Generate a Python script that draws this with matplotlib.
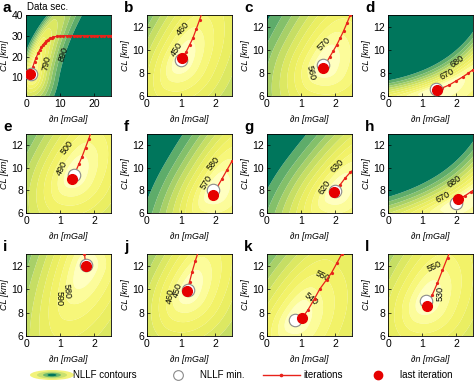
import numpy as np
import matplotlib
matplotlib.use('Agg')
import matplotlib.pyplot as plt
from matplotlib.colors import ListedColormap, BoundaryNorm
from matplotlib.patches import Ellipse

plt.rcParams['font.family'] = ['Liberation Sans', 'DejaVu Sans']

letters = list('abcdefghijkl')

# ---------------- data ----------------
# NLLF minimum (white circle) per panel
nllf_min_x = [1.5, 1.00, 1.65, 1.41, 1.40, 1.95, 2.00, 2.00, 1.75, 1.22, 0.82, 1.12]
nllf_min_y = [11.5, 9.10, 8.70, 6.58, 9.40, 8.00, 7.95, 6.90, 12.10, 9.90, 7.40, 9.00]

# iterations (in order, last element = last iteration)
iter_x = [
    [26, 25, 24, 23, 22, 21, 20, 19, 18, 17, 16, 15, 14, 13, 12, 11, 10, 9, 8, 7.5, 7, 6.5, 6, 5.5, 5, 4.5, 4, 3.5, 3, 2.5, 2, 1.6, 1.3],
    [1.65, 1.55, 1.45, 1.35, 1.25, 1.15, 1.08, 1.02],
    [2.55, 2.45, 2.35, 2.25, 2.15, 2.05, 1.95, 1.85, 1.75, 1.66],
    [2.65, 2.5, 2.35, 2.2, 2.0, 1.8, 1.6, 1.45],
    [1.95, 1.85, 1.75, 1.65, 1.55, 1.45, 1.35],
    [2.6, 2.5, 2.35, 2.2, 2.05, 1.93],
    [2.6, 2.45, 2.3, 2.15, 1.98],
    [2.6, 2.45, 2.25, 2.05],
    [1.70, 1.72, 1.74, 1.75],
    [1.55, 1.52, 1.42, 1.33, 1.25, 1.18],
    [2.3, 2.2, 2.05, 1.9, 1.75, 1.55, 1.4, 1.2, 1.02],
    [1.9, 1.85, 1.75, 1.6, 1.45, 1.3, 1.15],
]
iter_y = [
    [30.1, 30.1, 30.1, 30.1, 30.1, 30.1, 30.1, 30.1, 30.1, 30.1, 30.1, 30.1, 30.1, 30.1, 30.05, 30.0, 29.9, 29.7, 29.4, 29.1, 28.7, 28.2, 27.5, 26.7, 25.7, 24.5, 23.0, 21.5, 19.5, 17.5, 15.0, 13.0, 11.5],
    [13.5, 12.6, 11.8, 11.0, 10.4, 9.8, 9.5, 9.25],
    [13.4, 13.0, 12.3, 11.6, 11.0, 10.4, 9.9, 9.4, 8.9, 8.38],
    [8.6, 8.27, 7.95, 7.65, 7.3, 6.95, 6.7, 6.52],
    [13.5, 12.6, 11.8, 11.0, 10.3, 9.6, 9.0],
    [11.1, 10.6, 9.8, 9.0, 8.2, 7.6],
    [10.0, 9.6, 9.1, 8.5, 7.85],
    [8.2, 7.9, 7.5, 7.2],
    [13.5, 13.0, 12.5, 12.0],
    [13.5, 13.3, 12.4, 11.5, 10.6, 9.85],
    [13.5, 13.0, 12.2, 11.4, 10.8, 10.0, 9.2, 8.2, 7.5],
    [13.8, 13.4, 12.7, 11.6, 10.5, 9.5, 8.6],
]

# labelled NLLF contour values
label_values = [[790, 890], [450, 460], [560, 570], [670, 680], [490, 500], [570, 580],
                [620, 630], [670, 680], [580, 590], [450, 460], [540, 550], [530, 550]]

# ---------------- styling / layout ----------------
label_pos = [[(6, 17), (11, 21)], [(0.88, 10.05), (1.07, 11.8)], [(1.28, 7.97), (1.67, 10.5)],
             [(1.74, 7.9), (2.02, 9.0)], [(1.05, 10.0), (1.2, 11.8)], [(1.75, 8.7), (1.95, 10.4)],
             [(1.7, 8.3), (2.05, 10.2)], [(1.62, 7.4), (1.95, 8.8)], [(1.2, 9.8), (0.98, 9.2)],
             [(0.9, 9.9), (0.69, 9.4)], [(1.3, 9.2), (1.62, 11.1)], [(1.55, 9.6), (1.35, 11.9)]]

# field shape: theta, curvature, vertex offset, perp+ scale, perp- scale, along+ scale, along- scale
shape = [
    (80, -0.3, 0.0, 0.04, 0.10, 0.40, 0.15),
    (65, 0.0, 0.0, 0.22, 0.35, 0.70, 0.45),
    (64, 0.0, 0.0, 0.25, 0.45, 0.70, 0.40),
    (45, 0.40, 0.55, 0.09, 0.40, 0.90, 0.50),
    (65, 0.0, 0.0, 0.25, 0.38, 0.70, 0.45),
    (62, 0.0, 0.0, 0.20, 0.45, 0.70, 0.45),
    (55, 0.0, 0.0, 0.21, 0.45, 0.70, 0.45),
    (45, 0.35, 0.35, 0.127, 0.40, 0.90, 0.50),
    (70, 0.0, 0.0, 0.26, 0.38, 0.40, 0.80),
    (65, 0.0, 0.0, 0.25, 0.35, 0.70, 0.45),
    (60, 0.0, 0.0, 0.25, 0.45, 0.70, 0.45),
    (65, 0.0, 0.0, 0.28, 0.40, 0.70, 0.45),
]

q_levels = [0, 0.15, 0.4, 0.8, 1.4, 2.2, 3.2, 4.5, 6, 8, 11]
band_colors = ['#ffffc0', '#fcfc9a', '#f7f77a', '#f2f268', '#eaee62', '#dce862',
               '#c6de64', '#a8d068', '#84c06a', '#5eac6a']
dark = '#00765c'
cmap = ListedColormap(band_colors)
cmap.set_over(dark)
norm = BoundaryNorm(q_levels, cmap.N)

red = '#e8221a'

W, H = 474, 382
fig = plt.figure(figsize=(W / 100, H / 100), dpi=100)

col_left = [26, 147, 267, 388]
row_top = [15, 134, 254]
row_h = [81, 79, 82]
ax_w = 85


def field(X, Y, cx, cy, xr, yr, th, curv, a0, sp, sn, ap, an):
    xn = (X - cx) / xr
    yn = (Y - cy) / yr
    t = np.deg2rad(th)
    al = xn * np.cos(t) + yn * np.sin(t)
    pe = -xn * np.sin(t) + yn * np.cos(t) - curv * ((al - a0) ** 2 - a0 ** 2)
    return (pe / np.where(pe > 0, sp, sn)) ** 2 + (al / np.where(al > 0, ap, an)) ** 2


for i in range(12):
    r, c = divmod(i, 4)
    L = col_left[c]
    T = row_top[r]
    ah = row_h[r]
    ax = fig.add_axes([L / W, 1 - (T + ah) / H, ax_w / W, ah / H])
    if i == 0:
        xlim, ylim = (0, 25), (1, 40)
        xt, yt = [0, 10, 20], [10, 20, 30, 40]
    else:
        xlim, ylim = (0, 2.5), (6, 13)
        xt, yt = [0, 1, 2], [6, 8, 10, 12]
    xs = np.linspace(xlim[0], xlim[1], 300)
    ys = np.linspace(ylim[0], ylim[1], 300)
    X, Y = np.meshgrid(xs, ys)
    args = (nllf_min_x[i], nllf_min_y[i], xlim[1] - xlim[0], ylim[1] - ylim[0]) + tuple(shape[i])
    Q = field(X, Y, *args)
    ax.contourf(X, Y, Q, levels=q_levels, cmap=cmap, norm=norm, extend='max', antialiased=True)

    # labelled contours
    for k in range(2):
        px, py = label_pos[i][k]
        qv = float(field(np.array(px), np.array(py), *args))
        cs = ax.contour(X, Y, Q, levels=[qv], colors='none')
        ax.clabel(cs, fmt={cs.levels[0]: str(label_values[i][k])}, manual=[label_pos[i][k]],
                  colors='k', fontsize=6.5, inline=False)

    ax.plot(iter_x[i], iter_y[i], '-', color=red, lw=0.9, marker='o', ms=1.3, mfc=red, mec=red, zorder=4)
    ax.plot([nllf_min_x[i]], [nllf_min_y[i]], 'o', ms=9, mfc='white', mec='#8a8a8a', mew=0.8, zorder=5)
    ax.plot([iter_x[i][-1]], [iter_y[i][-1]], 'o', ms=7, mfc='#e60000', mec='#e60000', zorder=6)

    ax.set_xlim(*xlim)
    ax.set_ylim(*ylim)
    ax.set_xticks(xt)
    ax.set_yticks(yt)
    ax.tick_params(direction='in', length=2.5, width=0.5, labelsize=7.5, pad=2)
    for s in ax.spines.values():
        s.set_linewidth(0.6)
    ax.set_xlabel('∂n [mGal]', fontsize=6.5, style='italic', labelpad=4.5)
    ax.set_ylabel('CL [km]', fontsize=6.5, style='italic', labelpad=2)

# overlay for letters, title, legend
ov = fig.add_axes([0, 0, 1, 1], zorder=10)
ov.set_xlim(0, W)
ov.set_ylim(H, 0)
ov.axis('off')
ov.patch.set_alpha(0)
for i in range(12):
    r, c = divmod(i, 4)
    ov.text(col_left[c] - 23, row_top[r] - 7, letters[i], fontsize=11, fontweight='bold',
            ha='left', va='center')
ov.text(col_left[0] + 1, 7, 'Data sec.', fontsize=7, ha='left', va='center')

ly = 375
for w_, h_, col in [(44, 10, '#f2f27a'), (30, 7, '#c8e070'), (18, 4.5, '#6cb86c'), (9, 2.5, dark)]:
    ov.add_patch(Ellipse((52, ly), w_, h_, facecolor=col, edgecolor='none'))
ov.text(73, ly, 'NLLF contours', fontsize=7, ha='left', va='center')
ov.plot([178], [ly], 'o', ms=7, mfc='white', mec='#8a8a8a', mew=0.8)
ov.text(200, ly, 'NLLF min.', fontsize=7, ha='left', va='center')
ov.plot([263, 300], [ly, ly], '-', color=red, lw=1.0)
ov.plot([281], [ly], 'o', ms=1.6, color=red)
ov.text(303, ly, 'iterations', fontsize=7, ha='left', va='center')
ov.plot([378], [ly], 'o', ms=6, mfc='#e60000', mec='#e60000')
ov.text(400, ly, 'last iteration', fontsize=7, ha='left', va='center')

fig.savefig('out.png', dpi=100)
